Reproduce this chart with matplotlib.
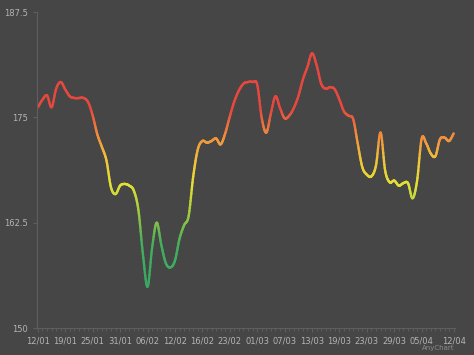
import numpy as np
import matplotlib
matplotlib.use('Agg')
import matplotlib.pyplot as plt
from matplotlib.collections import LineCollection
from matplotlib.colors import LinearSegmentedColormap, Normalize

# daily values
values = [176.2, 177.1, 177.6, 176.2, 178.4, 179.2, 178.3, 177.5, 177.3, 177.3,
          177.3, 176.8, 175.2, 173.0, 171.5, 169.9, 166.7, 165.9, 166.9, 167.1,
          166.9, 166.3, 164.0, 158.7, 154.9, 159.5, 162.5, 159.9, 157.7, 157.2,
          158.0, 160.6, 162.2, 163.3, 168.0, 171.2, 172.2, 172.0, 172.2, 172.5,
          171.8, 173.1, 175.1, 176.9, 178.2, 179.0, 179.2, 179.2, 178.9, 174.9,
          173.2, 175.5, 177.5, 176.1, 174.9, 175.2, 176.1, 177.5, 179.5, 181.0,
          182.6, 181.2, 179.0, 178.4, 178.6, 178.3, 177.1, 175.7, 175.2, 174.8,
          171.9, 169.1, 168.2, 168.0, 169.3, 173.2, 168.7, 167.3, 167.5, 166.9,
          167.2, 167.2, 165.4, 167.5, 172.5, 171.9, 170.7, 170.4, 172.4, 172.6,
          172.2, 173.1]
tick_pos = [0, 6, 12, 18, 24, 30, 36, 42, 48, 54, 60, 66, 72, 78, 84, 91]
tick_labels = ['12/01', '19/01', '25/01', '31/01', '06/02', '12/02', '16/02', '23/02',
               '01/03', '07/03', '13/03', '19/03', '23/03', '29/03', '05/04', '12/04']
y_ticks = [150, 162.5, 175, 187.5]


def catmull_rom(x, y, n=12):
    """Smooth spline through every point, like a spline series."""
    px = np.concatenate([[x[0]], x, [x[-1]]])
    py = np.concatenate([[y[0]], y, [y[-1]]])
    t = np.linspace(0, 1, n, endpoint=False)
    xs, ys = [], []
    for k in range(1, len(px) - 2):
        for p, out in ((px, xs), (py, ys)):
            p0, p1, p2, p3 = p[k - 1], p[k], p[k + 1], p[k + 2]
            out.append(0.5 * (2 * p1 + (-p0 + p2) * t
                              + (2 * p0 - 5 * p1 + 4 * p2 - p3) * t ** 2
                              + (-p0 + 3 * p1 - 3 * p2 + p3) * t ** 3))
    xs.append([x[-1]])
    ys.append([y[-1]])
    return np.concatenate(xs), np.concatenate(ys)


bg = '#464646'
fig = plt.figure(figsize=(4.74, 3.55), dpi=100, facecolor=bg)
ax = fig.add_axes([0.078, 0.076, 0.882, 0.89], facecolor=bg)

x = np.arange(len(values), dtype=float)
xs, ys = catmull_rom(x, np.array(values))
pts = np.column_stack([xs, ys]).reshape(-1, 1, 2)
segs = np.concatenate([pts[:-1], pts[1:]], axis=1)

# colour follows the value: green low, yellow middle, red high
lo, hi = 155.0, 176.0
stops = [(155, '#38a863'), (160, '#45ae5c'), (164, '#a8cc40'), (167, '#e3e134'),
         (170, '#f0c43a'), (173, '#f08a3e'), (176, '#e5483f')]
cmap = LinearSegmentedColormap.from_list(
    'grad', [((v - lo) / (hi - lo), c) for v, c in stops])
norm = Normalize(lo, hi)
lc = LineCollection(segs, cmap=cmap, norm=norm, linewidth=1.7, capstyle='round')
lc.set_array((ys[:-1] + ys[1:]) / 2)
ax.add_collection(lc)

ax.set_xlim(-0.2, 91.3)
ax.set_ylim(150, 187.5)
ax.set_yticks(y_ticks)
ax.set_yticklabels(['150', '162.5', '175', '187.5'])
ax.set_xticks(tick_pos)
ax.set_xticklabels(tick_labels)
ax.set_xticks(x, minor=True)

for s in ['top', 'right']:
    ax.spines[s].set_visible(False)
for s in ['left', 'bottom']:
    ax.spines[s].set_color('#5e5e5e')
    ax.spines[s].set_linewidth(0.8)
ax.tick_params(colors='#5e5e5e', labelcolor='#b4b4b4', labelsize=6, length=3, width=0.8)
ax.tick_params(axis='x', which='minor', colors='#5e5e5e', length=2, width=0.6)
ax.tick_params(axis='x', pad=3)

fig.text(0.958, 0.012, 'AnyChart', color='#8a8a8a', fontsize=5, ha='right', va='bottom')

fig.savefig('out.png', dpi=100, facecolor=bg)
